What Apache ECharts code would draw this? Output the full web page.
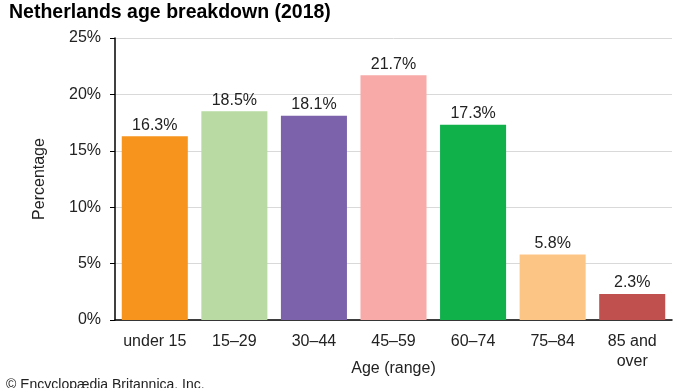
<!DOCTYPE html>
<html><head><meta charset="utf-8">
<script src="https://cdn.jsdelivr.net/npm/echarts@6/dist/echarts.min.js"></script>
<style>html,body{margin:0;padding:0;background:#fff}#c{width:690px;height:388px}</style>
</head><body><div id="c"></div>
<script>
var categories = ['under 15', '15–29', '30–44', '45–59', '60–74', '75–84', '85 and\nover'];
var values = [16.3, 18.5, 18.1, 21.7, 17.3, 5.8, 2.3];
var colors = ['#F7941D', '#B9DBA3', '#7B62AB', '#F7AAA7', '#10B04B', '#FDC585', '#C0504D'];
var yTicks = [0, 5, 10, 15, 20, 25];

var chart = echarts.init(document.getElementById('c'));
var F = 'Arial, "Liberation Sans", sans-serif';
chart.setOption({
  animation: false,
  title: {
    text: 'Netherlands age breakdown (2018)', left: 4, top: -2,
    textStyle: { fontFamily: F, fontSize: 19.5, fontWeight: 'bold', color: '#000' }
  },
  graphic: [{
    type: 'text', left: 6, top: 378,
    style: { text: '© Encyclopædia Britannica, Inc.', font: '14px ' + F, fill: '#222' }
  }],
  grid: { left: 115, right: 18, top: 38, bottom: 68, outerBoundsMode: 'none', containLabel: false },
  xAxis: {
    type: 'category', data: categories,
    name: 'Age (range)', nameLocation: 'middle', nameGap: 41, nameMoveOverlap: false,
    nameTextStyle: { fontFamily: F, fontSize: 16, color: '#222' },
    axisLine: { lineStyle: { color: '#000', width: 1.5 } },
    axisTick: { show: false },
    axisLabel: { interval: 0, hideOverlap: false, fontFamily: F, fontSize: 16, color: '#222', margin: 12, lineHeight: 20 }
  },
  yAxis: {
    type: 'value', min: 0, max: 25, interval: 5,
    name: 'Percentage', nameLocation: 'middle', nameGap: 67, nameRotate: 90, nameMoveOverlap: false,
    nameTextStyle: { fontFamily: F, fontSize: 16, color: '#222' },
    axisLine: { show: true, lineStyle: { color: '#000', width: 1.5 } },
    axisTick: { show: true, length: 5, lineStyle: { color: '#000' } },
    splitLine: { lineStyle: { color: '#d9d9d9' } },
    axisLabel: { fontFamily: F, fontSize: 16, color: '#222', margin: 14,
      formatter: function (v) { return yTicks.indexOf(v) >= 0 ? v + '%' : ''; } }
  },
  series: [{
    type: 'bar', barCategoryGap: '17%',
    data: values.map(function (v, i) { return { value: v, itemStyle: { color: colors[i] } }; }),
    label: { show: true, position: 'top', distance: 3, fontFamily: F, fontSize: 16, color: '#222',
      formatter: function (p) { return p.value.toFixed(1) + '%'; } }
  }]
});
</script></body></html>
